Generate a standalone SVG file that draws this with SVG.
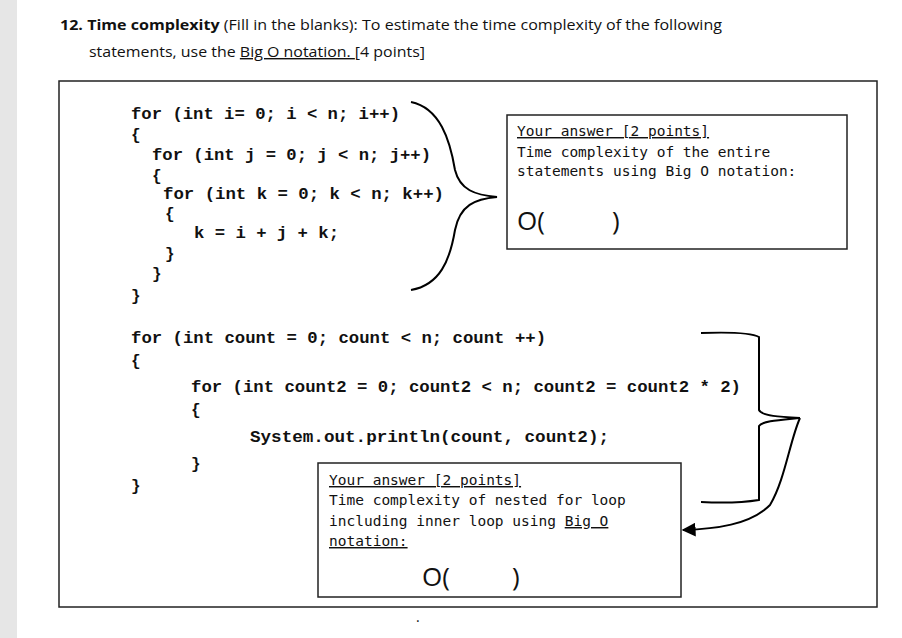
<svg xmlns="http://www.w3.org/2000/svg" width="902" height="638" viewBox="0 0 902 638">
<defs>
<style>
.code{font-family:"Liberation Mono",monospace;font-weight:bold;font-size:16px;fill:#111}
.ans{font-family:"DejaVu Sans Mono","Liberation Mono",monospace;font-size:14.5px;fill:#111}
.t{font-family:"Open Sans","Liberation Sans",sans-serif;font-size:14px;fill:#111}
.big{font-family:"Open Sans","Liberation Sans",sans-serif;font-size:26px;fill:#111}
.ln{fill:none;stroke:#000;stroke-width:2}
</style>
<marker id="ah" viewBox="0 0 10 10" refX="9" refY="5" markerWidth="7" markerHeight="7" orient="auto"><path d="M0,0 L10,5 L0,10 z" fill="#000"/></marker>
</defs>
<rect width="902" height="638" fill="#fff"/>
<rect x="0" y="0" width="17" height="638" fill="#e6e6e6"/>
<text class="t" x="60" y="30" textLength="662" lengthAdjust="spacingAndGlyphs"><tspan font-weight="bold">12. Time complexity</tspan> (Fill in the blanks):  To estimate the time complexity of the following</text>
<text class="t" x="89" y="57" textLength="336" lengthAdjust="spacingAndGlyphs">statements, use the <tspan text-decoration="underline">Big O notation. </tspan>[4 points]</text>
<rect x="59" y="81" width="818" height="526" fill="none" stroke="#222" stroke-width="1.5"/>
<g id="code1">
<text class="code" x="131" y="119" textLength="269" lengthAdjust="spacingAndGlyphs">for (int i= 0; i &lt; n; i++)</text>
<text class="code" x="131" y="140">{</text>
<text class="code" x="152" y="160" textLength="279" lengthAdjust="spacingAndGlyphs">for (int j = 0; j &lt; n; j++)</text>
<text class="code" x="152" y="181">{</text>
<text class="code" x="163" y="199" textLength="281" lengthAdjust="spacingAndGlyphs">for (int k = 0; k &lt; n; k++)</text>
<text class="code" x="165" y="219">{</text>
<text class="code" x="194" y="238" textLength="145" lengthAdjust="spacingAndGlyphs">k = i + j + k;</text>
<text class="code" x="165" y="259">}</text>
<text class="code" x="152" y="279">}</text>
<text class="code" x="131" y="301">}</text>
</g>
<g id="answer1">
<rect x="507" y="115" width="340" height="134" fill="none" stroke="#222" stroke-width="1.5"/>
<text class="ans" x="517" y="136" text-decoration="underline">Your answer [2 points]</text>
<text class="ans" x="517" y="157">Time complexity of the entire</text>
<text class="ans" x="517" y="176">statements using Big O notation:</text>
<text class="big" x="517" y="230">O(</text>
<text class="big" x="612" y="230">)</text>
</g>
<g id="code2">
<text class="code" x="131" y="343" textLength="415" lengthAdjust="spacingAndGlyphs">for (int count = 0; count &lt; n; count ++)</text>
<text class="code" x="131" y="366">{</text>
<text class="code" x="191" y="392" textLength="550" lengthAdjust="spacingAndGlyphs">for (int count2 = 0; count2 &lt; n; count2 = count2 * 2)</text>
<text class="code" x="191" y="415">{</text>
<text class="code" x="250" y="442" textLength="359" lengthAdjust="spacingAndGlyphs">System.out.println(count, count2);</text>
<text class="code" x="191" y="469">}</text>
<text class="code" x="131" y="491">}</text>
</g>
<g id="answer2">
<rect x="318" y="463" width="363" height="134" fill="none" stroke="#222" stroke-width="1.5"/>
<text class="ans" x="329" y="485" text-decoration="underline">Your answer [2 points]</text>
<text class="ans" x="329" y="505">Time complexity of nested for loop</text>
<text class="ans" x="329" y="526">including inner loop using <tspan text-decoration="underline">Big O</tspan></text>
<text class="ans" x="329" y="546" text-decoration="underline">notation:</text>
<text class="big" x="422" y="586">O(</text>
<text class="big" x="512" y="586">)</text>
</g>
<g id="connectors">
<path class="ln" d="M411,102 C440,108 450,140 455,170 C460,190 475,195 497,197 C475,199 460,205 455,230 C450,260 440,285 411,290"/>
<path class="ln" d="M701,333 C730,332 752,333 759,337 L759,410 C762,416 780,417 800,418 M800,418 C780,420 762,421 759,426 L759,500 C740,503 720,503 701,502"/>
<path class="ln" d="M800,418 C790,440 785,480 770,505 C750,525 715,529 683,530" marker-end="url(#ah)"/>
</g>
<text class="t" x="416" y="622" font-size="10">.</text>
</svg>
